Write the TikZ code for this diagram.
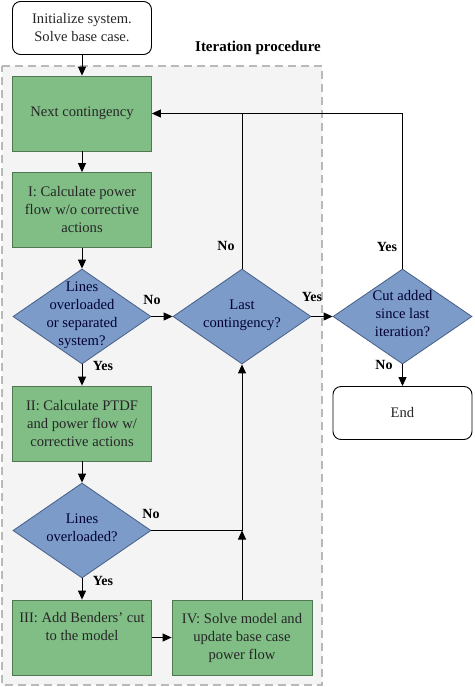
\documentclass[tikz,border=0pt]{standalone}
\usepackage{fontspec}
\setmainfont{Liberation Serif}
\usetikzlibrary{shapes.geometric,arrows.meta}
\definecolor{gfill}{RGB}{128,190,134}
\definecolor{gline}{RGB}{80,120,85}
\definecolor{bfill}{RGB}{124,155,200}
\definecolor{bline}{RGB}{70,95,135}
\definecolor{bgfill}{RGB}{244,244,244}
\definecolor{bgline}{RGB}{185,185,185}
\begin{document}
\begin{tikzpicture}[x=1pt,y=-1pt,
  every node/.style={font=\fontsize{14.6}{18}\selectfont, text=black!85},
  gbox/.style={draw=gline, fill=gfill, line width=0.8pt, minimum width=139pt, minimum height=75pt, align=center, inner sep=0pt},
  wbox/.style={draw=black, fill=white, line width=0.9pt, rounded corners=8pt, minimum width=139pt, align=center, inner sep=0pt},
  dia/.style={draw=bline, fill=bfill, line width=0.8pt, diamond, minimum width=138pt, minimum height=95pt, inner sep=0pt},
  dtext/.style={align=center, text=black!80!blue},
  lbl/.style={font=\fontsize{14}{16}\selectfont\bfseries, text=black},
  arr/.style={-{Triangle[length=9pt,width=8pt]}, line width=0.9pt},
  ln/.style={line width=0.9pt}]
\useasboundingbox (0,0) rectangle (474,687);
% background region
\fill[bgfill] (2,66) rectangle (322,685);
\draw[bgline, line width=1.6pt, dash pattern=on 8pt off 5pt] (2,66) -- (322,66) -- (322,685) -- (2,685) -- cycle;
\node[lbl, font=\fontsize{15}{17}\selectfont\bfseries] (itp) at (258,48) {Iteration procedure};
% nodes
\node[wbox, minimum height=53pt] (start) at (82,28) {Initialize system.\\Solve base case.};
\node[gbox] (next) at (82,113.5) {Next contingency};
\node[gbox] (b1) at (82,210) {I: Calculate power\\flow w/o corrective\\actions};
\node[dia] (d1) at (82,316.5) {};
\node[dtext] (d1t) at (82,315) {Lines\\overloaded\\or separated\\system?};
\node[gbox] (b2) at (82,423.5) {II: Calculate PTDF\\and power flow w/\\corrective actions};
\node[dia] (d2) at (82,530.5) {};
\node[dtext] (d2t) at (82,528) {Lines\\overloaded?};
\node[gbox] (b3) at (82,637.5) {III: Add Benders{\char39} cut\\to the model\\[4pt]};
\node[gbox, minimum width=140pt] (b4) at (242,637.5) {IV: Solve model and\\update base case\\power flow};
\node[dia] (last) at (242,316.5) {};
\node[dtext] (lastt) at (242,315) {Last\\contingency?};
\node[dia, minimum width=139pt] (cut) at (402.5,316.5) {};
\node[dtext] (cutt) at (402.5,314) {Cut added\\since last\\iteration?};
\node[wbox, minimum height=53pt] (end) at (402.5,413) {End};
\coordinate (j) at (242,530.5);
% connectors
\draw[arr] (start) -- (next);
\draw[arr] (next) -- (b1);
\draw[arr] (b1) -- (d1.north);
\draw[arr] (d1.south) -- (b2);
\draw[arr] (b2) -- (d2.north);
\draw[arr] (d2.south) -- (b3);
\draw[arr] (b3) -- (b4);
\draw[arr] (d1.east) -- (last.west);
\draw[arr] (b4.north) -- (j);
\draw[ln] (d2.east) -- (j);
\draw[arr] (j) -- (last.south);
\draw[arr] (last.east) -- (cut.west);
\draw[arr] (cut.south) -- (end);
\draw[arr] (cut.north) |- (next.east);
\draw[ln] (last.north) -- (last.north |- next.east);
% labels
\node[lbl] (l1) at (152,300) {No};
\node[lbl] (l2) at (103,366) {Yes};
\node[lbl] (l3) at (226,246) {No};
\node[lbl] (l4) at (312,297) {Yes};
\node[lbl] (l5) at (387,247) {Yes};
\node[lbl] (l6) at (384,365) {No};
\node[lbl] (l7) at (151,514) {No};
\node[lbl] (l8) at (103,581) {Yes};
\end{tikzpicture}
\end{document}
